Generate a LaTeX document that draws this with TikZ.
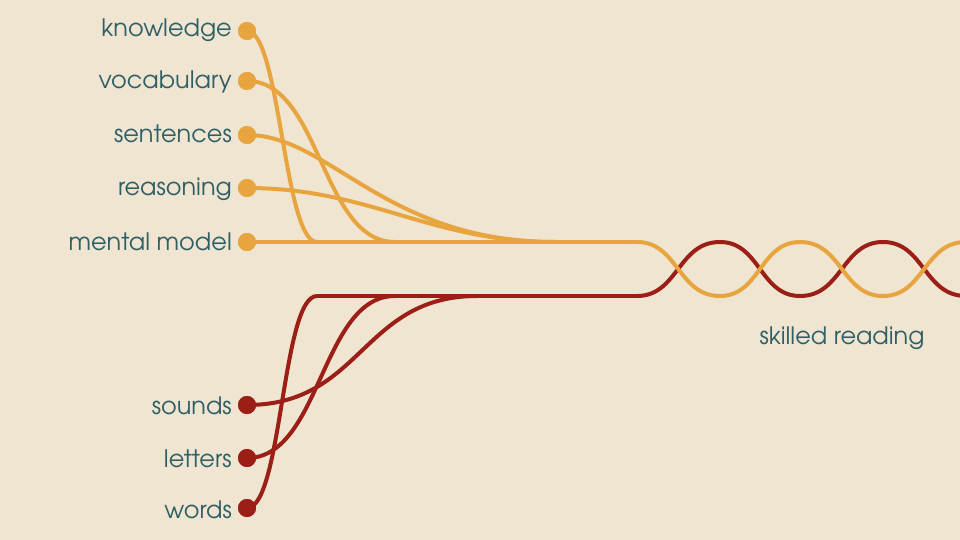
\documentclass[tikz,border=0pt]{standalone}
\usepackage{fontspec}
\setmainfont{TeX Gyre Adventor}
\definecolor{bg}{HTML}{F0E5D0}
\definecolor{gold}{HTML}{E8A53F}
\definecolor{rust}{HTML}{9B1E17}
\definecolor{teal}{HTML}{2E5F66}
\tikzset{
  lbl/.style={anchor=base east, text=teal, font=\fontsize{24}{28}\selectfont, inner sep=0pt},
  dotg/.style={circle, fill=gold, minimum size=18pt, inner sep=0pt},
  dotr/.style={circle, fill=rust, minimum size=18pt, inner sep=0pt},
  strand/.style={line width=4pt},
}
\begin{document}
\begin{tikzpicture}[x=1pt,y=-1pt]
\fill[bg] (0,0) rectangle (960,540);
\useasboundingbox (0,0) rectangle (960,540);
% dots
\node[dotg] (kn) at (247,31) {};
\node[dotg] (vo) at (247,81) {};
\node[dotg] (se) at (247,135) {};
\node[dotg] (re) at (247,188) {};
\node[dotg] (mm) at (247,242) {};
\node[dotr] (so) at (247,405) {};
\node[dotr] (le) at (247,458) {};
\node[dotr] (wo) at (247,508) {};
% labels
\node[lbl] (tkn) at (232,37) {knowledge};
\node[lbl] (tvo) at (232,89) {vocabulary};
\node[lbl] (tse) at (232,143) {sentences};
\node[lbl] (tre) at (232,196) {reasoning};
\node[lbl] (tmm) at (232,250) {mental model};
\node[lbl] (tso) at (232,414) {sounds};
\node[lbl] (tle) at (232,467) {letters};
\node[lbl] (two) at (232,518) {words};
\node[lbl, anchor=base] (tsk) at (842,344) {skilled reading};
% join points
\coordinate (j1) at (317,242);
\coordinate (j2) at (395,242);
\coordinate (j3) at (555,242);
\coordinate (r1) at (317,296);
\coordinate (r2) at (395,296);
\coordinate (r3) at (477,296);
\coordinate (go) at (637,242);
\coordinate (ro) at (637,296);
\coordinate (a1) at (720,242);
\coordinate (b1) at (720,296);
\coordinate (a2) at (800,242);
\coordinate (b2) at (800,296);
\coordinate (a3) at (883,242);
\coordinate (b3) at (883,296);
\coordinate (a4) at (966,242);
\coordinate (b4) at (966,296);
% orange strands
\begin{scope}[strand, draw=gold]
\draw (kn.center) .. controls (280,31) and (284,242) .. (j1);
\draw (vo.center) .. controls (321,81) and (321,242) .. (j2);
\draw (se.center) .. controls (330,135) and (385,242) .. (j3);
\draw (re.center) .. controls (370,188) and (430,242) .. (j3);
\draw (mm.center) -- (go);
\end{scope}
% red strands
\begin{scope}[strand, draw=rust]
\draw (wo.center) .. controls (282,508) and (282,296) .. (r1);
\draw (le.center) .. controls (321,458) and (321,296) .. (r2);
\draw (so.center) .. controls (362,405) and (362,296) .. (r3);
\draw (r1) -- (ro);
\end{scope}
% rope
\draw[strand, rust] (ro) .. controls (678,296) and (678,242) .. (a1)
  .. controls (760,242) and (760,296) .. (b2)
  .. controls (842,296) and (842,242) .. (a3)
  .. controls (924,242) and (924,296) .. (b4);
\draw[strand, gold] (go) .. controls (678,242) and (678,296) .. (b1)
  .. controls (760,296) and (760,242) .. (a2)
  .. controls (842,242) and (842,296) .. (b3)
  .. controls (924,296) and (924,242) .. (a4);
% redraw dots on top
\node[dotg] at (kn) {};
\node[dotg] at (vo) {};
\node[dotg] at (se) {};
\node[dotg] at (re) {};
\node[dotg] at (mm) {};
\node[dotr] at (so) {};
\node[dotr] at (le) {};
\node[dotr] at (wo) {};
\end{tikzpicture}
\end{document}
